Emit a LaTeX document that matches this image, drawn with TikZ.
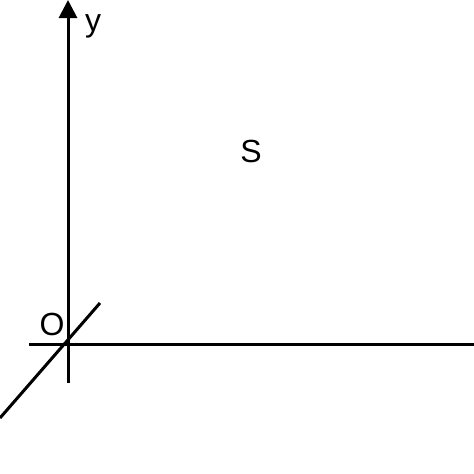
\documentclass[tikz,border=0pt]{standalone}
\usepackage{fontspec}
\setmainfont{Liberation Sans}
\usetikzlibrary{arrows.meta}
\begin{document}
\begin{tikzpicture}[x=1pt,y=-1pt,
  axis/.style={line width=3pt,black},
  lbl/.style={font=\fontsize{32}{32}\selectfont,inner sep=0pt,anchor=base}]
\useasboundingbox (0,0) rectangle (474,474);
\coordinate (O) at (68,344);
\coordinate (ytop) at (68,0);
\coordinate (ybot) at (68,383);
\coordinate (xl) at (29,344);
\coordinate (xr) at (474,344);
\coordinate (zl) at (0,418);
\coordinate (zr) at (100,303);
\draw[axis,-{Triangle[length=18pt,width=18pt]}] (ybot) -- (ytop);
\draw[axis] (xl) -- (xr);
\draw[axis] (zl) -- (zr);
\node[lbl] (ylab) at (93,31) {y};
\node[lbl] (slab) at (251,162) {S};
\node[lbl] (olab) at (52,335) {O};
\end{tikzpicture}
\end{document}
